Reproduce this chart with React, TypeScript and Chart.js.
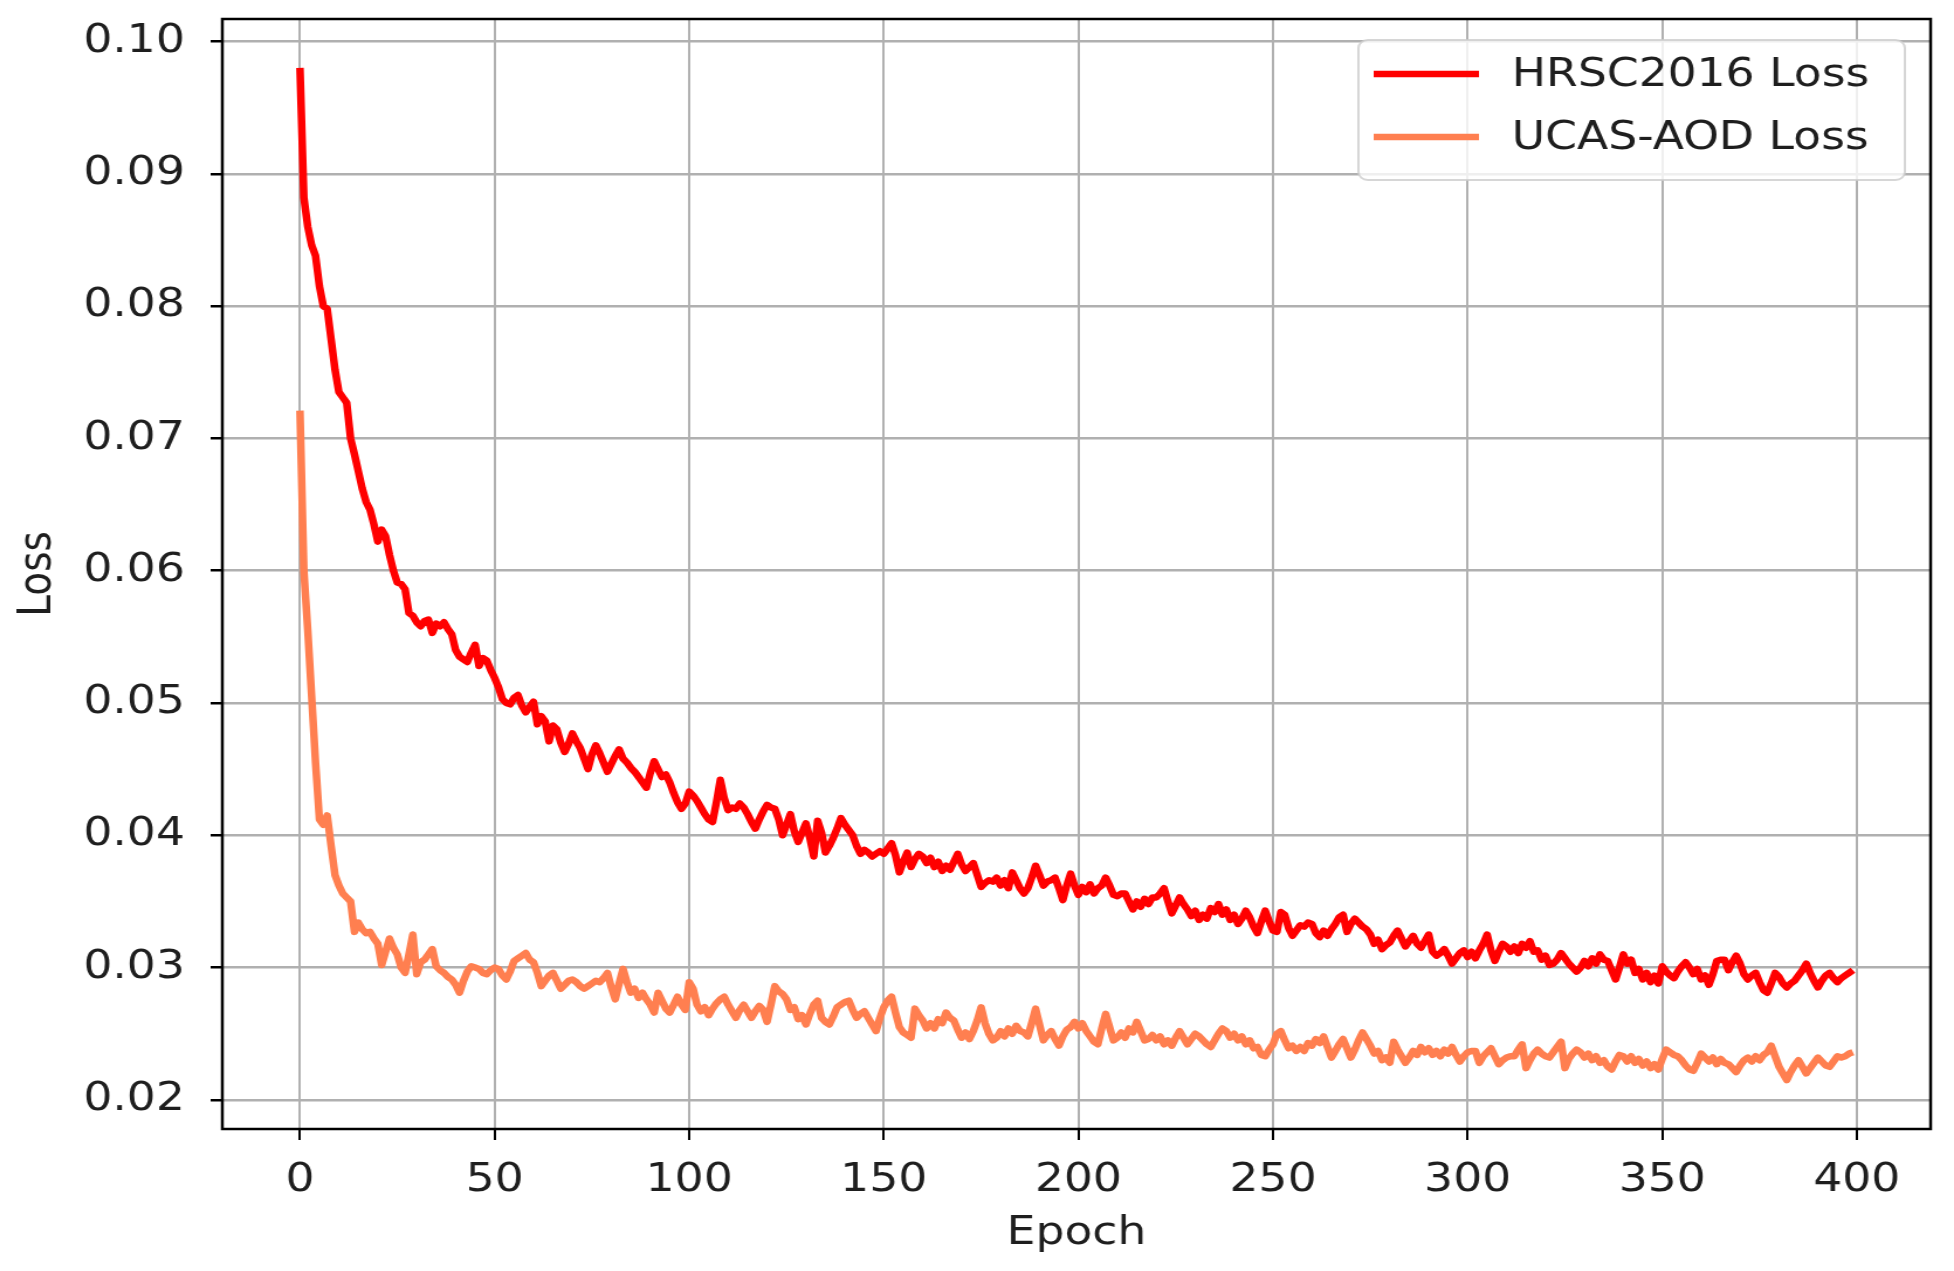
import React, { useEffect, useRef } from "react";
import { Chart, registerables } from "chart.js";

Chart.register(...registerables);

const SERIES_NAMES = ["HRSC2016 Loss", "UCAS-AOD Loss"];
const SERIES_COLORS = ["#ff0000", "#ff7f50"];
const X_TITLE = "Epoch";
const Y_TITLE = "Loss";
const X_TICKS = [0, 50, 100, 150, 200, 250, 300, 350, 400];
const Y_TICKS = [0.02, 0.03, 0.04, 0.05, 0.06, 0.07, 0.08, 0.09, 0.1];

const HRSC2016_LOSS = [
  0.0980, 0.0882, 0.0860, 0.0846, 0.0838, 0.0815, 0.0800, 0.0798, 0.0775, 0.0752,
  0.0735, 0.0731, 0.0727, 0.0700, 0.0688, 0.0675, 0.0662, 0.0652, 0.0646, 0.0635,
  0.0622, 0.0631, 0.0626, 0.0612, 0.0600, 0.0591, 0.0590, 0.0586, 0.0568, 0.0566,
  0.0561, 0.0558, 0.0562, 0.0563, 0.0553, 0.0560, 0.0558, 0.0561, 0.0556, 0.0552,
  0.0540, 0.0535, 0.0533, 0.0531, 0.0538, 0.0544, 0.0528, 0.0534, 0.0532, 0.0525,
  0.0519, 0.0512, 0.0503, 0.0500, 0.0499, 0.0504, 0.0506, 0.0498, 0.0493, 0.0497,
  0.0501, 0.0484, 0.0490, 0.0486, 0.0471, 0.0483, 0.0480, 0.0470, 0.0463, 0.0469,
  0.0477, 0.0471, 0.0466, 0.0458, 0.0450, 0.0461, 0.0468, 0.0462, 0.0455, 0.0448,
  0.0454, 0.0460, 0.0465, 0.0458, 0.0455, 0.0451, 0.0448, 0.0444, 0.0440, 0.0436,
  0.0447, 0.0456, 0.0450, 0.0444, 0.0446, 0.0440, 0.0432, 0.0425, 0.0420, 0.0424,
  0.0433, 0.0430, 0.0426, 0.0421, 0.0416, 0.0412, 0.0410, 0.0425, 0.0442, 0.0428,
  0.0419, 0.0421, 0.0420, 0.0424, 0.0421, 0.0416, 0.0410, 0.0405, 0.0412, 0.0418,
  0.0423, 0.0421, 0.0420, 0.0412, 0.0400, 0.0408, 0.0416, 0.0403, 0.0395, 0.0402,
  0.0409, 0.0398, 0.0384, 0.0411, 0.0402, 0.0387, 0.0392, 0.0398, 0.0405, 0.0413,
  0.0408, 0.0404, 0.0400, 0.0392, 0.0386, 0.0389, 0.0387, 0.0384, 0.0386, 0.0388,
  0.0386, 0.0390, 0.0394, 0.0385, 0.0372, 0.0380, 0.0387, 0.0376, 0.0382, 0.0386,
  0.0384, 0.0379, 0.0383, 0.0376, 0.0380, 0.0373, 0.0377, 0.0374, 0.0380, 0.0386,
  0.0378, 0.0373, 0.0376, 0.0379, 0.0370, 0.0361, 0.0364, 0.0366, 0.0365, 0.0368,
  0.0362, 0.0366, 0.0360, 0.0372, 0.0366, 0.0360, 0.0356, 0.0360, 0.0368, 0.0377,
  0.0370, 0.0362, 0.0365, 0.0366, 0.0368, 0.0360, 0.0351, 0.0362, 0.0371, 0.0362,
  0.0355, 0.0361, 0.0357, 0.0363, 0.0356, 0.0360, 0.0362, 0.0368, 0.0362, 0.0355,
  0.0354, 0.0356, 0.0356, 0.0350, 0.0344, 0.0350, 0.0346, 0.0352, 0.0348, 0.0353,
  0.0353, 0.0356, 0.0360, 0.0350, 0.0341, 0.0347, 0.0353, 0.0348, 0.0344, 0.0339,
  0.0343, 0.0336, 0.0340, 0.0337, 0.0345, 0.0342, 0.0348, 0.0340, 0.0344, 0.0336,
  0.0340, 0.0333, 0.0337, 0.0343, 0.0338, 0.0331, 0.0326, 0.0335, 0.0343, 0.0335,
  0.0328, 0.0327, 0.0342, 0.0340, 0.0330, 0.0324, 0.0328, 0.0332, 0.0331, 0.0334,
  0.0333, 0.0326, 0.0323, 0.0328, 0.0324, 0.0329, 0.0333, 0.0338, 0.0340, 0.0327,
  0.0333, 0.0337, 0.0334, 0.0331, 0.0329, 0.0325, 0.0318, 0.0321, 0.0314, 0.0317,
  0.0319, 0.0324, 0.0328, 0.0322, 0.0316, 0.0320, 0.0324, 0.0318, 0.0315, 0.0320,
  0.0325, 0.0312, 0.0309, 0.0311, 0.0314, 0.0309, 0.0303, 0.0307, 0.0311, 0.0313,
  0.0308, 0.0312, 0.0307, 0.0313, 0.0318, 0.0325, 0.0313, 0.0305, 0.0312, 0.0318,
  0.0316, 0.0312, 0.0316, 0.0311, 0.0318, 0.0315, 0.0320, 0.0312, 0.0313, 0.0306,
  0.0309, 0.0302, 0.0303, 0.0306, 0.0311, 0.0307, 0.0303, 0.0300, 0.0297, 0.0300,
  0.0305, 0.0301, 0.0307, 0.0303, 0.0310, 0.0306, 0.0305, 0.0298, 0.0291, 0.0300,
  0.0310, 0.0303, 0.0306, 0.0296, 0.0299, 0.0291, 0.0296, 0.0289, 0.0294, 0.0288,
  0.0301, 0.0297, 0.0294, 0.0292, 0.0297, 0.0301, 0.0304, 0.0300, 0.0295, 0.0299,
  0.0291, 0.0294, 0.0287, 0.0295, 0.0305, 0.0306, 0.0306, 0.0298, 0.0304, 0.0309,
  0.0303, 0.0295, 0.0291, 0.0294, 0.0296, 0.0289, 0.0283, 0.0281, 0.0288, 0.0296,
  0.0293, 0.0288, 0.0285, 0.0288, 0.0290, 0.0294, 0.0298, 0.0303, 0.0296, 0.0290,
  0.0285, 0.0290, 0.0294, 0.0296, 0.0292, 0.0289, 0.0292, 0.0294, 0.0296, 0.0298,
];

const UCAS_AOD_LOSS = [
  0.0721, 0.0600, 0.0555, 0.0505, 0.0455, 0.0412, 0.0408, 0.0415, 0.0392, 0.0370,
  0.0362, 0.0356, 0.0353, 0.0350, 0.0327, 0.0334, 0.0329, 0.0326, 0.0327, 0.0322,
  0.0318, 0.0302, 0.0312, 0.0322, 0.0315, 0.0310, 0.0300, 0.0296, 0.0310, 0.0325,
  0.0295, 0.0304, 0.0306, 0.0310, 0.0314, 0.0301, 0.0298, 0.0296, 0.0293, 0.0291,
  0.0287, 0.0281, 0.0290, 0.0297, 0.0301, 0.0300, 0.0299, 0.0296, 0.0295, 0.0298,
  0.0300, 0.0299, 0.0294, 0.0291, 0.0297, 0.0305, 0.0307, 0.0309, 0.0311, 0.0306,
  0.0304, 0.0296, 0.0286, 0.0290, 0.0294, 0.0296, 0.0290, 0.0284, 0.0287, 0.0290,
  0.0291, 0.0289, 0.0286, 0.0284, 0.0286, 0.0288, 0.0290, 0.0289, 0.0292, 0.0296,
  0.0285, 0.0276, 0.0288, 0.0299, 0.0289, 0.0281, 0.0284, 0.0277, 0.0281, 0.0276,
  0.0272, 0.0266, 0.0281, 0.0275, 0.0269, 0.0266, 0.0272, 0.0278, 0.0272, 0.0268,
  0.0289, 0.0284, 0.0272, 0.0267, 0.0270, 0.0264, 0.0269, 0.0273, 0.0276, 0.0278,
  0.0272, 0.0267, 0.0262, 0.0268, 0.0272, 0.0267, 0.0262, 0.0267, 0.0271, 0.0268,
  0.0259, 0.0272, 0.0286, 0.0282, 0.0280, 0.0276, 0.0268, 0.0270, 0.0261, 0.0264,
  0.0257, 0.0265, 0.0272, 0.0275, 0.0262, 0.0259, 0.0257, 0.0263, 0.0270, 0.0272,
  0.0274, 0.0275, 0.0268, 0.0262, 0.0265, 0.0267, 0.0262, 0.0257, 0.0252, 0.0262,
  0.0270, 0.0275, 0.0278, 0.0266, 0.0255, 0.0251, 0.0249, 0.0247, 0.0269, 0.0264,
  0.0260, 0.0254, 0.0258, 0.0254, 0.0261, 0.0258, 0.0266, 0.0262, 0.0260, 0.0253,
  0.0247, 0.0251, 0.0246, 0.0252, 0.0260, 0.0270, 0.0258, 0.0250, 0.0245, 0.0247,
  0.0252, 0.0248, 0.0254, 0.0250, 0.0256, 0.0252, 0.0251, 0.0248, 0.0258, 0.0269,
  0.0257, 0.0245, 0.0249, 0.0252, 0.0246, 0.0241, 0.0248, 0.0253, 0.0255, 0.0259,
  0.0254, 0.0258, 0.0252, 0.0248, 0.0244, 0.0242, 0.0254, 0.0265, 0.0255, 0.0245,
  0.0247, 0.0251, 0.0247, 0.0254, 0.0251, 0.0259, 0.0252, 0.0245, 0.0246, 0.0249,
  0.0245, 0.0248, 0.0242, 0.0245, 0.0241, 0.0247, 0.0252, 0.0247, 0.0242, 0.0246,
  0.0250, 0.0248, 0.0245, 0.0242, 0.0240, 0.0245, 0.0250, 0.0254, 0.0252, 0.0247,
  0.0250, 0.0245, 0.0248, 0.0242, 0.0245, 0.0239, 0.0240, 0.0234, 0.0233, 0.0238,
  0.0242, 0.0250, 0.0252, 0.0245, 0.0239, 0.0241, 0.0237, 0.0240, 0.0237, 0.0243,
  0.0241, 0.0246, 0.0243, 0.0248, 0.0240, 0.0232, 0.0237, 0.0242, 0.0246, 0.0239,
  0.0232, 0.0238, 0.0245, 0.0251, 0.0246, 0.0241, 0.0235, 0.0237, 0.0230, 0.0232,
  0.0228, 0.0244, 0.0238, 0.0233, 0.0228, 0.0232, 0.0237, 0.0234, 0.0240, 0.0236,
  0.0239, 0.0234, 0.0237, 0.0233, 0.0238, 0.0235, 0.0240, 0.0234, 0.0229, 0.0233,
  0.0236, 0.0237, 0.0237, 0.0228, 0.0233, 0.0236, 0.0239, 0.0233, 0.0227, 0.0230,
  0.0232, 0.0233, 0.0233, 0.0238, 0.0242, 0.0224, 0.0230, 0.0235, 0.0238, 0.0235,
  0.0233, 0.0232, 0.0236, 0.0240, 0.0244, 0.0224, 0.0231, 0.0235, 0.0238, 0.0236,
  0.0232, 0.0235, 0.0230, 0.0233, 0.0228, 0.0230, 0.0225, 0.0223, 0.0229, 0.0234,
  0.0233, 0.0229, 0.0233, 0.0228, 0.0231, 0.0226, 0.0229, 0.0224, 0.0227, 0.0223,
  0.0231, 0.0238, 0.0236, 0.0234, 0.0233, 0.0230, 0.0226, 0.0223, 0.0222, 0.0228,
  0.0235, 0.0232, 0.0229, 0.0232, 0.0227, 0.0231, 0.0228, 0.0227, 0.0224, 0.0221,
  0.0226, 0.0230, 0.0232, 0.0229, 0.0233, 0.0230, 0.0234, 0.0236, 0.0241, 0.0233,
  0.0225, 0.0220, 0.0215, 0.0221, 0.0226, 0.0230, 0.0225, 0.0220, 0.0224, 0.0228,
  0.0232, 0.0229, 0.0226, 0.0225, 0.0229, 0.0233, 0.0232, 0.0233, 0.0235, 0.0236,
];

const EPOCHS = HRSC2016_LOSS.map((_, i) => i);

// Axis ranges (matplotlib-style 5% margins)
const X_MIN = -19.95;
const X_MAX = 418.95;
const Y_MIN = 0.0178;
const Y_MAX = 0.1017;

// Page / canvas geometry: the reference is horizontally stretched
const PAGE_W = 1954;
const PAGE_H = 1271;
const STRETCH = 1.17;
const CANVAS_W = Math.round(PAGE_W / STRETCH);

const FONT_FAMILY = '"DejaVu Sans", sans-serif';
const FONT_SIZE = 39;
const TEXT_COLOR = "#1e1e1e";

const framePlugin = {
  id: "frame",
  afterDatasetsDraw(chart: any) {
    const { ctx, chartArea: a } = chart;
    ctx.save();
    ctx.strokeStyle = "#000";
    ctx.lineWidth = 2.5;
    ctx.strokeRect(a.left, a.top, a.right - a.left, a.bottom - a.top);
    ctx.restore();
  },
};

const insideLegendPlugin = {
  id: "insideLegend",
  afterDraw(chart: any) {
    const { ctx, chartArea: a } = chart;
    const boxW = 467;
    const boxH = 140;
    const boxRight = a.right - 22;
    const boxLeft = boxRight - boxW;
    const boxTop = a.top + 21;
    ctx.save();
    ctx.beginPath();
    if (ctx.roundRect) ctx.roundRect(boxLeft, boxTop, boxW, boxH, 8);
    else ctx.rect(boxLeft, boxTop, boxW, boxH);
    ctx.fillStyle = "rgba(255,255,255,0.8)";
    ctx.fill();
    ctx.strokeStyle = "rgba(204,204,204,0.8)";
    ctx.lineWidth = 2;
    ctx.stroke();
    const rows = [boxTop + 34, boxTop + 97];
    chart.data.datasets.forEach((ds: any, i: number) => {
      const y = rows[i];
      ctx.beginPath();
      ctx.strokeStyle = ds.borderColor;
      ctx.lineWidth = 6.5;
      ctx.lineCap = "butt";
      ctx.moveTo(boxLeft + 13, y);
      ctx.lineTo(boxLeft + 103, y);
      ctx.stroke();
      ctx.fillStyle = TEXT_COLOR;
      ctx.font = `${FONT_SIZE}px ${FONT_FAMILY}`;
      ctx.textAlign = "left";
      ctx.textBaseline = "middle";
      ctx.fillText(ds.label, boxLeft + 131, y + 2);
    });
    ctx.restore();
  },
};

export default function App() {
  const canvasRef = useRef<HTMLCanvasElement | null>(null);

  useEffect(() => {
    document.body.style.margin = "0";
    document.body.style.background = "#fff";
    const canvas = canvasRef.current;
    if (!canvas) return;

    const seriesValues = [HRSC2016_LOSS, UCAS_AOD_LOSS];
    const chart = new Chart(canvas, {
      type: "line",
      data: {
        datasets: seriesValues.map((vals, si) => ({
          label: SERIES_NAMES[si],
          data: EPOCHS.map((e, i) => ({ x: e, y: vals[i] })),
          borderColor: SERIES_COLORS[si],
          backgroundColor: SERIES_COLORS[si],
          borderWidth: 6.5,
          pointRadius: 0,
          tension: 0,
          fill: false,
          borderJoinStyle: "round" as const,
          order: 1 - si,
        })),
      },
      options: {
        responsive: false,
        animation: false,
        layout: { padding: { top: 19, right: CANVAS_W - 1650, bottom: 0, left: 0 } },
        plugins: {
          legend: { display: false },
          tooltip: { enabled: false },
        },
        scales: {
          x: {
            type: "linear",
            min: X_MIN,
            max: X_MAX,
            afterBuildTicks: (s: any) => {
              s.ticks = X_TICKS.map((v) => ({ value: v }));
            },
            afterFit: (s: any) => {
              s.height = 142;
              s.paddingLeft = 0;
              s.paddingRight = 0;
            },
            border: { display: false },
            grid: {
              color: "#b0b0b0",
              lineWidth: 2,
              drawTicks: true,
              tickLength: 11,
              tickColor: "#000",
              tickWidth: 2,
            },
            ticks: {
              color: TEXT_COLOR,
              font: { family: FONT_FAMILY, size: FONT_SIZE },
              padding: 17,
              maxRotation: 0,
              autoSkip: false,
              callback: (v: any) => String(v),
            },
            title: {
              display: true,
              text: X_TITLE,
              color: TEXT_COLOR,
              font: { family: FONT_FAMILY, size: FONT_SIZE },
              padding: { top: 0, bottom: 14 },
            },
          },
          y: {
            type: "linear",
            min: Y_MIN,
            max: Y_MAX,
            afterBuildTicks: (s: any) => {
              s.ticks = Y_TICKS.map((v) => ({ value: v }));
            },
            afterFit: (s: any) => {
              s.width = 190;
              s.paddingTop = 0;
              s.paddingBottom = 0;
            },
            border: { display: false },
            grid: {
              color: "#b0b0b0",
              lineWidth: 2.5,
              drawTicks: true,
              tickLength: 10,
              tickColor: "#000",
              tickWidth: 2.5,
            },
            ticks: {
              color: TEXT_COLOR,
              font: { family: FONT_FAMILY, size: FONT_SIZE },
              padding: 22,
              autoSkip: false,
              callback: (v: any) => Number(v).toFixed(2),
            },
            title: {
              display: true,
              text: Y_TITLE,
              color: TEXT_COLOR,
              font: { family: FONT_FAMILY, size: FONT_SIZE },
              padding: { top: 9, bottom: 0 },
            },
          },
        },
      },
      plugins: [framePlugin, insideLegendPlugin],
    });

    return () => chart.destroy();
  }, []);

  return (
    <div style={{ width: PAGE_W, height: PAGE_H, overflow: "hidden", background: "#fff" }}>
      <canvas
        ref={canvasRef}
        width={CANVAS_W}
        height={PAGE_H}
        style={{ width: `${PAGE_W}px`, height: `${PAGE_H}px`, display: "block" }}
      />
    </div>
  );
}
